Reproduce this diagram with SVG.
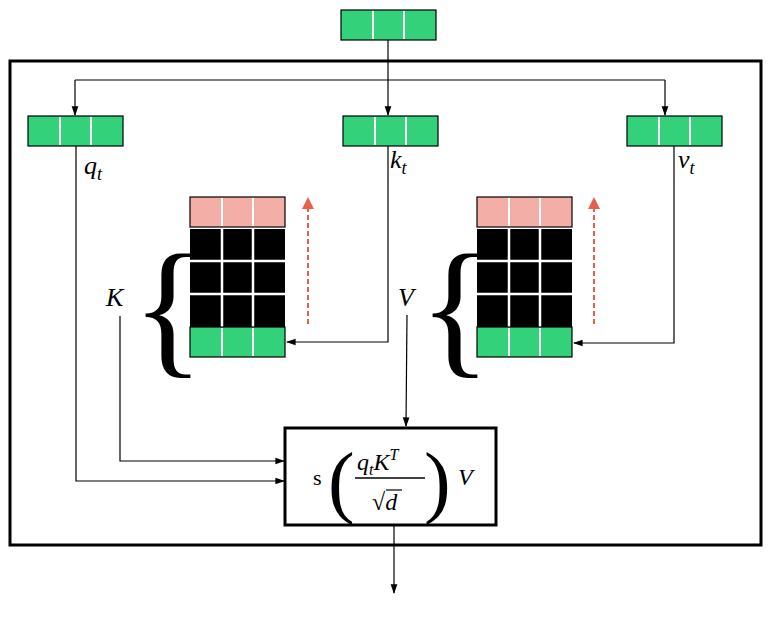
<svg xmlns="http://www.w3.org/2000/svg" width="771" height="627" viewBox="0 0 771 627">
<style>
.g{fill:#33d17a;stroke:#000;stroke-width:1.2}
.p{fill:#f4aea8;stroke:#000;stroke-width:1.2}
.sep{stroke:#fff;stroke-width:2}
.c{fill:none;stroke:#000;stroke-width:1.2}
.m{font-family:"Liberation Serif",serif;font-style:italic;fill:#000}
.r{font-family:"Liberation Serif",serif;fill:#000}
.red{stroke:#e8604c;stroke-width:2;stroke-dasharray:5,3;fill:none}
</style>
<defs>
<marker id="a" viewBox="0 0 10 10" refX="9" refY="5" markerWidth="8" markerHeight="8" orient="auto"><path d="M0,1.5L10,5L0,8.5z" fill="#000"/></marker>
<marker id="ar" viewBox="0 0 10 10" refX="5" refY="5" markerWidth="6" markerHeight="6" orient="auto"><path d="M0,0L10,5L0,10z" fill="#e8604c"/></marker>
<g id="vec"><rect class="g" x="0" y="0" width="95" height="30"/><line class="sep" x1="32" y1="1" x2="32" y2="29"/><line class="sep" x1="63" y1="1" x2="63" y2="29"/></g>
<g id="pvec"><rect class="p" x="0" y="0" width="95" height="30"/><line class="sep" x1="32" y1="1" x2="32" y2="29"/><line class="sep" x1="63" y1="1" x2="63" y2="29"/></g>
<g id="mat"><rect x="0" y="0" width="95" height="98" fill="#000"/><path d="M32,0V98M63,0V98M0,32H95M0,65H95" stroke="#fff" stroke-width="2.5"/></g>
</defs>
<rect x="10" y="61" width="751" height="484" fill="none" stroke="#000" stroke-width="3"/>
<g id="input"><use href="#vec" x="341" y="10"/></g>
<g id="q"><use href="#vec" x="28" y="116"/><text class="m" x="84" y="174" font-size="26">q<tspan font-size="18" dy="6">t</tspan></text></g>
<g id="k"><use href="#vec" x="343" y="116"/><text class="m" x="390" y="168" font-size="26">k<tspan font-size="18" dy="6">t</tspan></text></g>
<g id="v"><use href="#vec" x="627" y="116"/><text class="m" x="678" y="168" font-size="26">v<tspan font-size="18" dy="6">t</tspan></text></g>
<g id="Kcache">
<use href="#pvec" x="190" y="197"/><use href="#mat" x="190" y="229"/><use href="#vec" x="190" y="327"/>
<text class="r" x="132" y="358" font-size="150" font-weight="300">{</text>
<text class="m" x="106" y="306" font-size="26">K</text>
<line class="red" x1="308" y1="324" x2="308" y2="203" marker-end="url(#ar)"/>
</g>
<g id="Vcache">
<use href="#pvec" x="477" y="197"/><use href="#mat" x="477" y="229"/><use href="#vec" x="477" y="327"/>
<text class="r" x="419" y="358" font-size="150" font-weight="300">{</text>
<text class="m" x="398" y="306" font-size="26">V</text>
<line class="red" x1="594" y1="324" x2="594" y2="203" marker-end="url(#ar)"/>
</g>
<g id="attn">
<rect x="285" y="428" width="211" height="97" fill="#fff" stroke="#000" stroke-width="3"/>
<text class="r" x="313" y="485" font-size="22">s</text>
<text class="r" x="328" y="508" font-size="80" font-weight="300" transform="scale(1,1)">(</text>
<text class="m" x="357" y="470" font-size="24">q<tspan font-size="16" dy="5">t</tspan><tspan dy="-5">K</tspan><tspan font-size="16" dy="-10">T</tspan></text>
<line x1="355" y1="478" x2="425" y2="478" stroke="#000" stroke-width="1.5"/>
<text class="r" x="372" y="510" font-size="24">√<tspan class="m">d</tspan></text>
<path d="M386,490H402" stroke="#000" stroke-width="1.2"/>
<text class="r" x="424" y="508" font-size="80" font-weight="300">)</text>
<text class="m" x="458" y="485" font-size="24">V</text>
</g>
<g id="connectors">
<path class="c" d="M388,40V115" marker-end="url(#a)"/>
<path class="c" d="M75,80H665" />
<path class="c" d="M75,80V115" marker-end="url(#a)"/>
<path class="c" d="M665,80V115" marker-end="url(#a)"/>
<path class="c" d="M76,146V481H284" marker-end="url(#a)"/>
<path class="c" d="M120,316V461H284" marker-end="url(#a)"/>
<path class="c" d="M388,146V342H287" marker-end="url(#a)"/>
<path class="c" d="M674,146V343H574" marker-end="url(#a)"/>
<path class="c" d="M407,315L406,426" marker-end="url(#a)"/>
<path class="c" d="M394,525V593" marker-end="url(#a)"/>
</g>
</svg>
